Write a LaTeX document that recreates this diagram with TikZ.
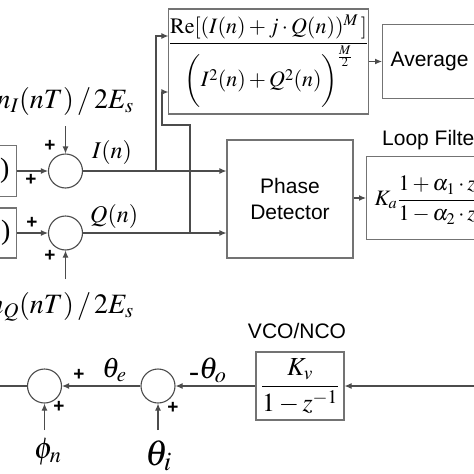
\documentclass[tikz,border=0pt]{standalone}
\usepackage{mathptmx}
\usepackage{amsmath}
\usepackage[no-math]{fontspec}
\setmainfont{Liberation Serif}
\setsansfont{Liberation Sans}
\usetikzlibrary{positioning,arrows.meta,calc}
\definecolor{linegray}{gray}{0.3}
\definecolor{boxgray}{gray}{0.45}
\tikzset{
  blk/.style={draw=boxgray, line width=1.1pt, inner sep=0pt},
  summer/.style={draw=linegray, circle, line width=1.1pt, minimum size=34pt, inner sep=0pt},
  sig/.style={draw=linegray, line width=1.1pt, -{Latex[length=7pt,width=6pt]}},
  wire/.style={draw=linegray, line width=1.1pt},
  sgn/.style={font=\sffamily\bfseries\fontsize{19}{19}\selectfont, inner sep=0pt},
  blocktxt/.style={font=\sffamily\fontsize{21}{26}\selectfont, align=center},
  mth/.style={inner sep=0pt}
}
\begin{document}
\begin{tikzpicture}[x=1pt,y=-1pt]
    \useasboundingbox [fill=white] (0,0) rectangle (474,474);
    \clip (0,0) rectangle (474,474); % the diagram runs on past the edges

    % I and Q arms
    \node [blk, minimum width=80pt, minimum height=51pt, anchor=east, text width=66pt,
      align=right, font=\fontsize{28}{28}\selectfont] (srcI) at (17,171) {)};
    \node [blk, minimum width=80pt, minimum height=50pt, anchor=east, text width=68pt,
      align=right, font=\fontsize{28}{28}\selectfont] (srcQ) at (17,233) {)};
    \node [summer] (sumI) at (65.5,171) {};
    \node [summer] (sumQ) at (65.5,233) {};
    \node [mth, anchor=base east, font=\fontsize{28}{28}\selectfont] (noiseI)
      at (134,108) {$n_I(nT)\,/\,2E_s$};
    \node [mth, anchor=base east, font=\fontsize{28}{28}\selectfont] (noiseQ)
      at (134,313) {$n_Q(nT)\,/\,2E_s$};
    \coordinate (noiseItip) at (65.5,126);
    \coordinate (noiseQtip) at (65.5,279);
    \node [sgn] (plusIa) at (50,146) {+};
    \node [sgn] (plusIb) at (31,180) {+};
    \node [sgn] (plusQa) at (32,223) {+};
    \node [sgn] (plusQb) at (50,256) {+};
    \node [mth, anchor=base west, font=\fontsize{24}{24}\selectfont] (labI) at (92,158) {$I(n)$};
    \node [mth, anchor=base west, font=\fontsize{24}{24}\selectfont] (labQ) at (90,222) {$Q(n)$};

    \draw [sig] (srcI) -- (sumI);
    \draw [sig] (srcQ) -- (sumQ);
    \draw [sig] (noiseItip) -- (sumI);
    \draw [sig] (noiseQtip) -- (sumQ);

    % detectors
    \node [blk, minimum width=126pt, minimum height=118pt, blocktxt] (pd) at (290,199)
      {Phase\\Detector};
    \node [blk, minimum width=191pt, minimum height=105pt, font=\fontsize{22}{26}\selectfont]
      (mpow) at (268.5,61.5)
      {$\dfrac{\mathrm{Re}[(I(n)+j\cdot Q(n))^M\,]}{\biggl(I^2(n)+Q^2(n)\biggr)^{\frac{M}{2}}}$};
    \node [blk, minimum width=94pt, minimum height=74pt, blocktxt, anchor=west] (avg)
      at (382,61.5) {Average};
    \node [blk, minimum height=83pt, inner xsep=8pt, anchor=west, font=\fontsize{22}{26}\selectfont]
      (loop) at (366,198) {$K_a\dfrac{1+\alpha_1\cdot z^{-1}}{1-\alpha_2\cdot z^{-1}}$};
    \node [blocktxt, anchor=base west, inner sep=0pt] (looplab) at (382,145) {Loop Filter};

    \draw [sig] (sumI) -- (sumI -| pd.west);
    \draw [sig] (sumQ) -- (sumQ -| pd.west);
    \coordinate (tapI) at (156,171);
    \coordinate (tapQ) at (190,233);
    \coordinate (bendQ) at (162,125);
    \draw [sig] (tapI) |- ([yshift=25.5pt]mpow.west);
    \draw [sig] (tapQ) |- (bendQ) |- ([yshift=-30.5pt]mpow.west);
    \draw [sig] (mpow) -- (avg);
    \draw [sig] (pd.east |- loop.west) -- (loop);

    % phase model
    \node [blk, minimum width=88pt, minimum height=68pt, font=\fontsize{26}{28}\selectfont]
      (vco) at (300,386) {$\dfrac{K_v}{1-z^{-1}}$};
    \node [blocktxt, anchor=base, inner sep=0pt] (vcolab) at (297,338) {VCO/NCO};
    \node [summer] (sumL) at (44.5,386) {};
    \node [summer] (sumR) at (158,386) {};
    \coordinate (fback) at (480,386);
    \coordinate (outL) at (-5,386);
    \coordinate (phitip) at (44.5,430);
    \coordinate (thetatip) at (158,430);
    \node [mth, anchor=base west, font=\fontsize{28}{28}\selectfont] (thetae) at (102,377) {$\theta_e$};
    \node [mth, anchor=base west, font=\fontsize{30}{30}\selectfont] (thetao) at (189,378)
      {\raisebox{-3pt}{-}$\theta_o$};
    \node [mth, anchor=base west, font=\fontsize{30}{30}\selectfont] (phin) at (34,458) {$\phi_n$};
    \node [mth, anchor=base west, font=\fontsize{36}{36}\selectfont] (thetai) at (145,465) {$\theta_i$};
    \node [sgn] (plusLa) at (79,375) {+};
    \node [sgn] (plusLb) at (59,407) {+};
    \node [sgn] (plusRb) at (173,408) {+};

    \draw [sig] (fback) -- (vco);
    \draw [sig] (vco) -- (sumR);
    \draw [sig] (sumR) -- (sumL);
    \draw [wire] (sumL) -- (outL);
    \draw [sig] (phitip) -- (sumL);
    \draw [sig] (thetatip) -- (sumR);
\end{tikzpicture}
\end{document}
